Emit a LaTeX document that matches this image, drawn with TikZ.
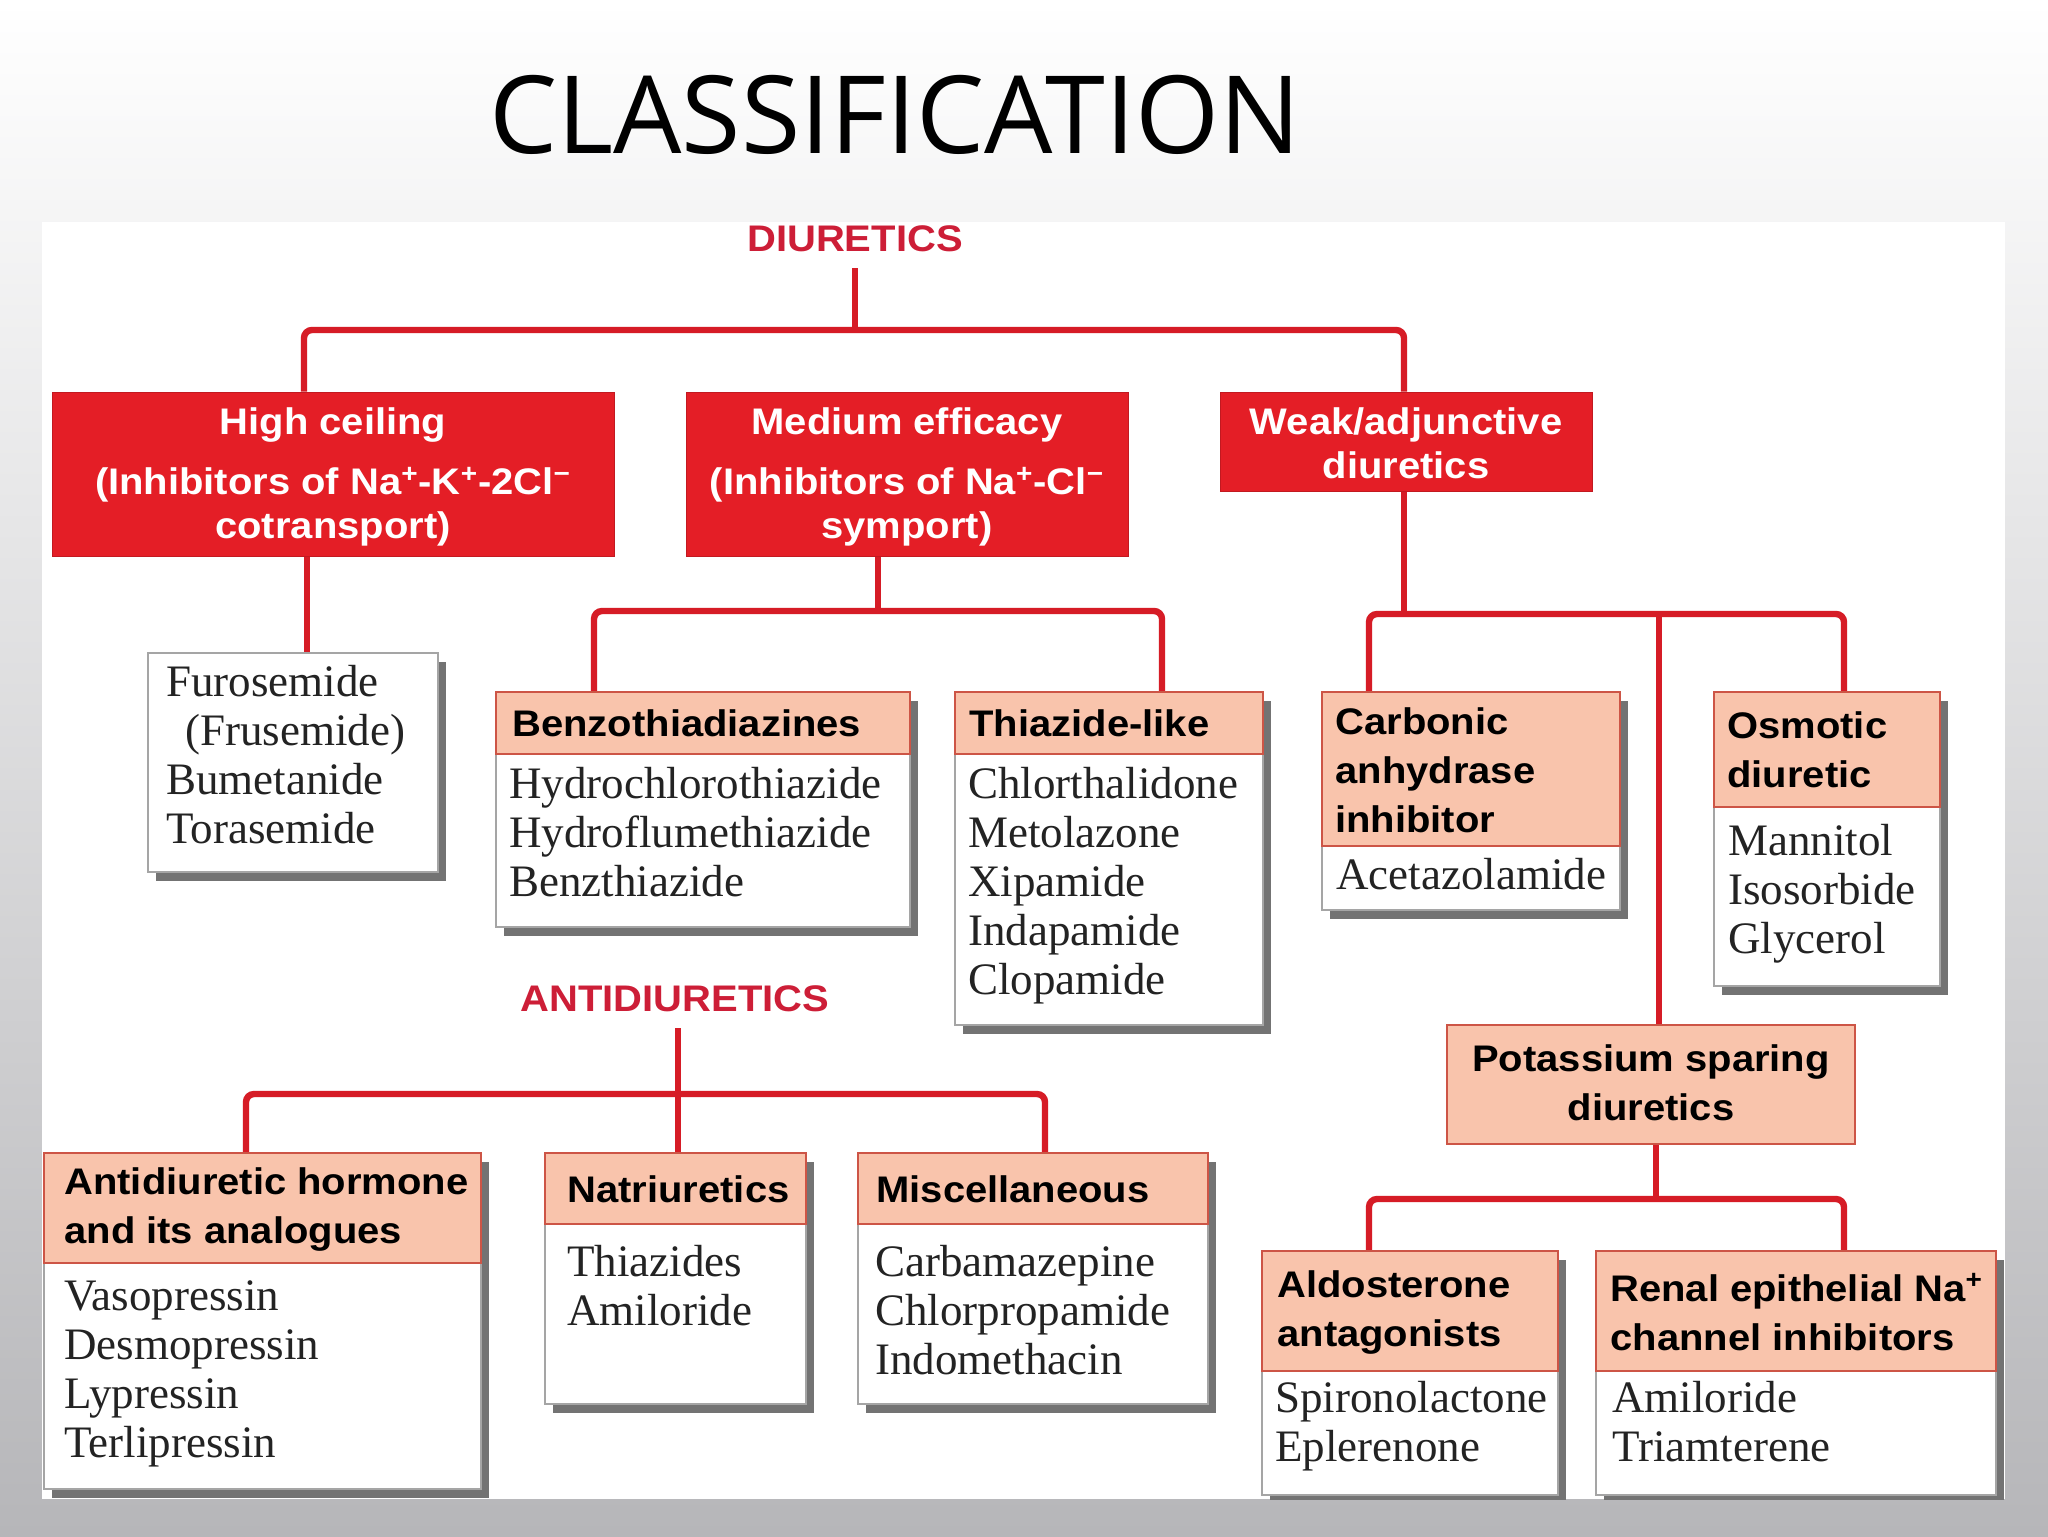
\documentclass[tikz,border=0pt]{standalone}
\usepackage{fontspec}
\setmainfont{Liberation Serif}
\newfontfamily\labfont{Liberation Sans}[FakeStretch=1.08]
\newfontfamily\titlefont{Open Sans}
\usetikzlibrary{fit,calc}
\definecolor{linered}{RGB}{214,28,38}
\definecolor{boxred}{RGB}{228,30,38}
\definecolor{catred}{RGB}{205,30,55}
\definecolor{salmon}{RGB}{249,196,172}
\definecolor{headedge}{RGB}{205,85,70}
\definecolor{bodyedge}{RGB}{165,165,165}
\definecolor{shadowgray}{RGB}{115,115,115}
\definecolor{bggray}{RGB}{182,182,185}
\definecolor{txt}{RGB}{35,35,35}
\newcommand{\dbox}[6]{%
  \fill[shadowgray] (#2+8,#3+9) rectangle (#4+8,#6+9);
  \node[bodybox, fit={(#2,#5) (#4,#6)}] (#1B) {};
  \node[headbox, fit={(#2,#3) (#4,#5)}] (#1H) {};
}
\begin{document}
\begin{tikzpicture}[x=0.5pt,y=-0.5pt,
  conn/.style={draw=linered, line width=3.2pt, rounded corners=4pt},
  redbox/.style={fill=boxred, draw=boxred!85!black, line width=0.5pt, inner sep=0pt},
  redtext/.style={text=white, inner sep=0pt, font=\labfont\bfseries\fontsize{18.5}{22}\selectfont, align=center},
  headbox/.style={fill=salmon, draw=headedge, line width=1.2pt, inner sep=0pt},
  bodybox/.style={fill=white, draw=bodyedge, line width=1pt, inner sep=0pt},
  hdtext/.style={font=\labfont\bfseries\fontsize{18.5}{24.5}\selectfont, align=left, inner sep=0pt, anchor=west, text=black},
  bdtext/.style={font=\fontsize{22.5}{24.5}\selectfont, align=left, text width=190pt, inner sep=0pt, anchor=base west, text=txt},
  cat/.style={font=\labfont\bfseries\fontsize{18.5}{22}\selectfont, text=catred, inner sep=8pt, outer sep=0pt}
]
\useasboundingbox (0,0) rectangle (2048,1536);
\shade[top color=white, middle color=white!92!bggray, bottom color=bggray] (0,0) rectangle (2048,1536);
\node[font=\titlefont\fontsize{54}{60}\selectfont, anchor=base west, inner sep=0pt] (title) at (489,154) {CLASSIFICATION};
\fill[white] (42,222) rectangle (2005,1499);
\begin{scope}
\clip (42,222) rectangle (2005,1499);

% category labels
\node[cat] (diur) at (855,239) {DIURETICS};
\node[cat] (anti) at (675,999) {ANTIDIURETICS};

% red class boxes
\node[redbox, fit={(52,392) (614,556)}] (high) {};
\node[redtext] (highT) at ($(high.center)+(0,3)$) {High ceiling\\[8pt](Inhibitors of Na\textsuperscript{+}-K\textsuperscript{+}-2Cl\textsuperscript{−}\\cotransport)};
\node[redbox, fit={(686,392) (1128,556)}] (med) {};
\node[redtext] (medT) at ($(med.center)+(0,3)$) {Medium efficacy\\[8pt](Inhibitors of Na\textsuperscript{+}-Cl\textsuperscript{−}\\symport)};
\node[redbox, fit={(1220,392) (1592,491)}] (weak) {};
\node[redtext] (weakT) at ($(weak.center)+(0,2)$) {Weak/adjunctive\\diuretics};

% Furosemide box
\fill[shadowgray] (148+8,653+9) rectangle (438+8,872+9);
\node[bodybox, fit={(148,653) (438,872)}] (furo) {};
\node[bdtext] (furoT) at (166,696) {Furosemide\\\hspace*{9.5pt}(Frusemide)\\Bumetanide\\Torasemide};

% drug boxes: name, x1, ytop, x2, yheader, ybottom
\dbox{benz}{496}{692}{910}{754}{927}
\dbox{thz}{955}{692}{1263}{754}{1025}
\dbox{carb}{1322}{692}{1620}{846}{910}
\dbox{osm}{1714}{692}{1940}{807}{986}
\dbox{adh}{44}{1153}{481}{1263}{1489}
\dbox{nat}{545}{1153}{806}{1224}{1404}
\dbox{misc}{858}{1153}{1208}{1224}{1404}
\dbox{aldo}{1262}{1251}{1558}{1371}{1495}
\dbox{ren}{1596}{1251}{1996}{1371}{1495}

% potassium sparing
\node[headbox, fit={(1447,1025) (1855,1144)}] (pot) {};
\node[hdtext, anchor=center, align=center] (potT) at ($(pot.center)+(0,-2)$) {Potassium sparing\\diuretics};

% header texts
\node[hdtext] (benzT) at (512,723) {Benzothiadiazines};
\node[hdtext] (thzT) at (969,723) {Thiazide-like};
\node[hdtext] (carbT) at (1335,770) {Carbonic\\anhydrase\\inhibitor};
\node[hdtext] (osmT) at (1727,750) {Osmotic\\diuretic};
\node[hdtext] (adhT) at (64,1209) {Antidiuretic hormone\\and its analogues};
\node[hdtext] (natT) at (567,1189) {Natriuretics};
\node[hdtext] (miscT) at (876,1189) {Miscellaneous};
\node[hdtext] (aldoT) at (1277,1312) {Aldosterone\\antagonists};
\node[hdtext] (renT) at (1610,1312) {Renal epithelial Na\textsuperscript{+}\\channel inhibitors};

% body texts
\node[bdtext] (benzL) at (509,798) {Hydrochlorothiazide\\Hydroflumethiazide\\Benzthiazide};
\node[bdtext] (thzL) at (968,798) {Chlorthalidone\\Metolazone\\Xipamide\\Indapamide\\Clopamide};
\node[bdtext] (carbL) at (1336,889) {Acetazolamide};
\node[bdtext] (osmL) at (1728,855) {Mannitol\\Isosorbide\\Glycerol};
\node[bdtext] (adhL) at (64,1310) {Vasopressin\\Desmopressin\\Lypressin\\Terlipressin};
\node[bdtext] (natL) at (567,1276) {Thiazides\\Amiloride};
\node[bdtext] (miscL) at (875,1276) {Carbamazepine\\Chlorpropamide\\Indomethacin};
\node[bdtext] (aldoL) at (1275,1412) {Spironolactone\\Eplerenone};
\node[bdtext] (renL) at (1612,1412) {Amiloride\\Triamterene};

% helper coordinates (junctions)
\coordinate (j0) at (855,330);
\coordinate (xh) at (304,0);
\coordinate (xw) at (1404,0);
\coordinate (xf) at (307,0);
\coordinate (jm) at (878,611);
\coordinate (xb) at (594,0);
\coordinate (xt) at (1162,0);
\coordinate (jw) at (1404,614);
\coordinate (xc) at (1369,0);
\coordinate (xo) at (1844,0);
\coordinate (jmid) at (1659,614);
\coordinate (jp) at (1656,1199);
\coordinate (ja) at (678,1094);
\coordinate (xa) at (246,0);
\coordinate (xm) at (1045,0);

% connectors
\draw[conn] (diur.south -| j0) -- (j0);
\draw[conn] (high.north -| xh) |- (j0) -| (weak.north -| xw);
\draw[conn] (high.south -| xf) -- (furo.north -| xf);
\draw[conn] (med.south -| jm) -- (jm);
\draw[conn] (benzH.north -| xb) |- (jm) -| (thzH.north -| xt);
\draw[conn] (weak.south -| jw) -- (jw);
\draw[conn] (carbH.north -| xc) |- (jw) -| (osmH.north -| xo);
\draw[conn] (jmid) -- (pot.north -| jmid);
\draw[conn] (pot.south -| jp) -- (jp);
\draw[conn] (aldoH.north -| xc) |- (jp) -| (renH.north -| xo);
\draw[conn] (anti.south -| ja) -- (ja);
\draw[conn] (adhH.north -| xa) |- (ja) -| (miscH.north -| xm);
\draw[conn] (ja) -- (natH.north -| ja);
\end{scope}
\end{tikzpicture}
\end{document}
